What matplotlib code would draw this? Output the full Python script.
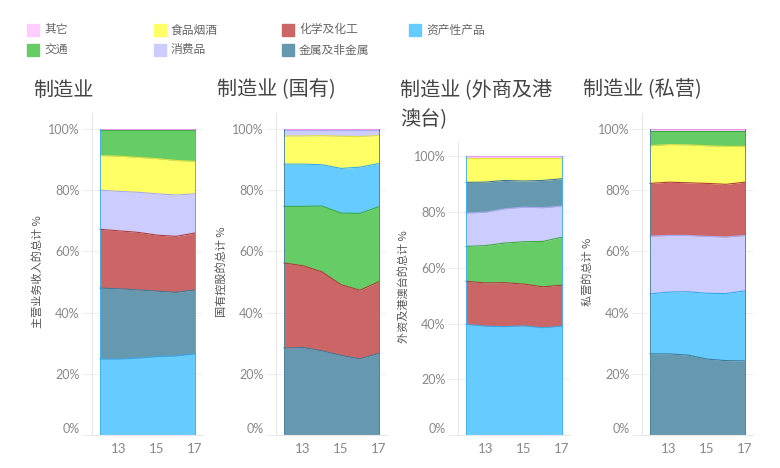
import numpy as np
import matplotlib
matplotlib.use("Agg")
import matplotlib.pyplot as plt
from matplotlib.patches import Rectangle
from matplotlib.ticker import FixedLocator

plt.rcParams['font.family'] = ['Noto Sans CJK SC', 'DejaVu Sans']

years = [12, 13, 14, 15, 16, 17]
year_ticks = [13, 15, 17]

colors = {
    '其它': '#ffccff',
    '食品烟酒': '#ffff66',
    '化学及化工': '#cc6666',
    '资产性产品': '#66ccff',
    '交通': '#66cc66',
    '消费品': '#ccccff',
    '金属及非金属': '#6699b0',
}
edges = {
    '其它': '#e89be8',
    '食品烟酒': '#e0e040',
    '化学及化工': '#b03a3a',
    '资产性产品': '#33aaee',
    '交通': '#3aaa3a',
    '消费品': '#a9a9ee',
    '金属及非金属': '#3f7a96',
}
legend_rows = [['其它', '食品烟酒', '化学及化工', '资产性产品'],
               ['交通', '消费品', '金属及非金属']]

# share of each category (%), stacked bottom -> top
p1_order = ['资产性产品', '金属及非金属', '化学及化工', '消费品', '食品烟酒', '交通', '其它']
p1_vals = [
    [24.8, 24.8, 25.1, 25.6, 25.8, 26.5],
    [23.2, 23.0, 22.3, 21.4, 20.8, 20.9],
    [19.2, 18.9, 18.8, 18.3, 18.3, 18.6],
    [12.8, 12.9, 13.1, 13.5, 13.5, 12.8],
    [11.3, 11.5, 11.4, 11.5, 11.3, 10.6],
    [8.3, 8.5, 8.9, 9.3, 9.9, 10.2],
    [0.4, 0.4, 0.4, 0.4, 0.4, 0.4],
]

p2_order = ['金属及非金属', '化学及化工', '交通', '资产性产品', '食品烟酒', '消费品', '其它']
p2_vals = [
    [28.4, 28.6, 27.5, 26.0, 24.9, 26.7],
    [27.8, 26.7, 25.8, 23.1, 22.4, 23.4],
    [18.5, 19.4, 21.5, 23.4, 25.1, 24.5],
    [13.8, 13.8, 13.5, 14.6, 15.1, 14.1],
    [9.2, 9.2, 9.5, 10.5, 10.0, 9.2],
    [1.9, 1.9, 1.8, 2.0, 2.1, 1.7],
    [0.4, 0.4, 0.4, 0.4, 0.4, 0.4],
]

p3_order = ['资产性产品', '化学及化工', '交通', '消费品', '金属及非金属', '食品烟酒', '其它']
p3_vals = [
    [39.7, 39.1, 38.9, 39.2, 38.5, 39.1],
    [15.5, 15.5, 15.8, 15.0, 14.7, 14.7],
    [12.5, 13.4, 14.2, 15.2, 16.3, 17.2],
    [12.0, 12.0, 12.3, 12.4, 12.1, 11.2],
    [11.0, 10.8, 10.2, 9.4, 9.8, 9.8],
    [8.9, 8.8, 8.2, 8.4, 8.2, 7.6],
    [0.4, 0.4, 0.4, 0.4, 0.4, 0.4],
]

p4_order = ['金属及非金属', '资产性产品', '消费品', '化学及化工', '食品烟酒', '交通', '其它']
p4_vals = [
    [26.5, 26.5, 26.1, 24.8, 24.3, 24.2],
    [19.6, 20.2, 20.7, 21.5, 21.9, 22.9],
    [18.9, 18.5, 18.4, 18.6, 18.5, 18.1],
    [17.2, 17.4, 17.2, 17.3, 17.2, 17.4],
    [12.3, 12.3, 12.4, 12.3, 12.4, 11.7],
    [4.9, 4.5, 4.6, 4.9, 5.1, 5.1],
    [0.6, 0.6, 0.6, 0.6, 0.6, 0.6],
]

titles = ['制造业', '制造业 (国有)', '制造业 (外商及港\n澳台)', '制造业 (私营)']
ylabels = ['主营业务收入的总计 %', '国有控股的总计 %', '外资及港澳台的总计 %', '私营的总计 %']

W, H = 780, 468
fig = plt.figure(figsize=(W / 100, H / 100), dpi=100)

# axes boxes in pixels: left, top, right, bottom
boxes = [(92, 113, 203, 435), (276, 113, 387, 435),
         (458, 142, 570, 435), (642, 113, 753, 435)]
title_pos = [(33, 90), (217, 90), (400, 91), (583, 90)]
ylabel_x = [37, 222, 403, 587]
panels = [(p1_order, p1_vals), (p2_order, p2_vals),
          (p3_order, p3_vals), (p4_order, p4_vals)]

for i, (order, vals) in enumerate(panels):
    l, t, r, b = boxes[i]
    ax = fig.add_axes([l / W, 1 - b / H, (r - l) / W, (b - t) / H])
    data = np.array(vals)
    cum = np.cumsum(data, axis=0)
    base = np.zeros(len(years))
    for name, top in zip(order, cum):
        ax.fill_between(years, base, top, color=colors[name], lw=0, zorder=2)
        ax.plot(years, top, color=edges[name], lw=0.8, zorder=3)
        base = top
    ax.plot([years[0], years[0]], [0, cum[-1][0]], color=edges[order[0]], lw=0.6, zorder=3)
    ax.plot([years[-1], years[-1]], [0, cum[-1][-1]], color=edges[order[0]], lw=0.6, zorder=3)

    ax.set_xlim(11.58, 17.42)
    ax.set_ylim(0, 105.2)
    ax.set_yticks([0, 20, 40, 60, 80, 100])
    ylabs = ax.set_yticklabels(['0%', '20%', '40%', '60%', '80%', '100%'],
                               family='Lato', fontsize=9, color='#888888')
    ylabs[0].set_va('bottom')
    ax.set_xticks(year_ticks)
    ax.set_xticklabels([str(y) for y in year_ticks], family='Lato',
                       fontsize=9.5, color='#888888')
    ax.xaxis.set_minor_locator(FixedLocator([12.5, 13.5, 14.5, 15.5, 16.5]))
    ax.tick_params(axis='y', length=7, width=0.8, color='#eeeeee', pad=2)
    ax.tick_params(axis='x', which='major', length=0, pad=6)
    ax.tick_params(axis='x', which='minor', length=3, width=0.6,
                   color='#eeeeee', direction='in')
    ax.grid(axis='y', color='#f0f0f0', lw=0.8, zorder=0)
    for s in ['top', 'right']:
        ax.spines[s].set_visible(False)
    for s in ['left', 'bottom']:
        ax.spines[s].set_color('#e8e8e8')
        ax.spines[s].set_linewidth(0.8)

    if i != 2:
        fig.text(title_pos[i][0] / W, 1 - title_pos[i][1] / H, titles[i],
                 fontsize=14.5, color='#444444', ha='left', va='center')
    fig.text(ylabel_x[i] / W, 1 - ((t + b) / 2 - 2) / H, ylabels[i], rotation=90,
             fontsize=8, color='#555555', ha='center', va='center')

# panel 3 title wraps to two lines
fig.text(400 / W, 1 - 91 / H, '制造业 (外商及港', fontsize=14.5, color='#444444',
         ha='left', va='center')
fig.text(400 / W, 1 - 120 / H, '澳台)', fontsize=14.5, color='#444444',
         ha='left', va='center')

# legend
col_x = [27, 154, 282, 409]
row_y = [30, 50]
for ri, row in enumerate(legend_rows):
    for ci, name in enumerate(row):
        x, y = col_x[ci], row_y[ri]
        fig.add_artist(Rectangle((x / W, 1 - (y + 6) / H), 12 / W, 12 / H,
                                 transform=fig.transFigure, color=colors[name]))
        fig.text((x + 17) / W, 1 - y / H, name, fontsize=8.5, color='#666666',
                 ha='left', va='center')

fig.savefig('out.png', dpi=100)
